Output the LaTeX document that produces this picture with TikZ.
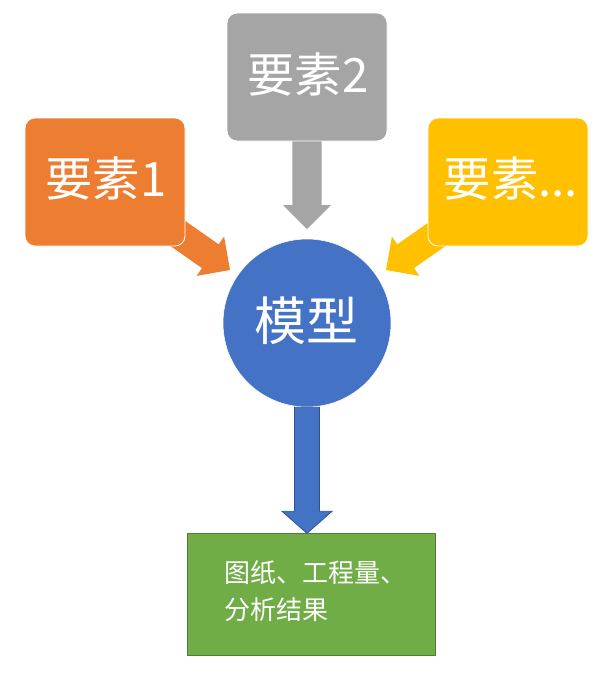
\documentclass[tikz,border=0pt]{standalone}
\usepackage{fontspec}
\setmainfont{Noto Sans CJK SC}
\usetikzlibrary{calc}
\definecolor{cOrange}{HTML}{ED7D31}
\definecolor{cGray}{HTML}{A5A5A5}
\definecolor{cYellow}{HTML}{FFC000}
\definecolor{cBlue}{HTML}{4472C4}
\definecolor{cBlueDark}{HTML}{2F528F}
\definecolor{cGreen}{HTML}{70AD47}
\definecolor{cGreenDark}{HTML}{507E32}
% block arrow: style, start coord, tip coord, shaft half width, head half width, head length
\newcommand\blkarrow[6]{%
  \coordinate (#2-hb) at ($(#3)!#6!(#2)$);
  \path[#1] ($(#2)!#4!90:(#3)$) -- ($(#2-hb)!#4!90:(#3)$) -- ($(#2-hb)!#5!90:(#3)$) -- (#3)
    -- ($(#2-hb)!#5!-90:(#3)$) -- ($(#2-hb)!#4!-90:(#3)$) -- ($(#2)!#4!-90:(#3)$) -- cycle;}
\tikzset{
  elembox/.style={rectangle, rounded corners=7.5pt, draw=white, line width=0.6pt,
    minimum width=120pt, minimum height=96pt, inner sep=0pt, text=white,
    font=\fontsize{35}{42}\selectfont},
  elemtext/.style={text=white, inner sep=0pt, font=\fontsize{35.5}{42}\selectfont},
}
\begin{document}
\begin{tikzpicture}[x=0.75pt,y=-0.75pt]
\useasboundingbox (0,0) rectangle (600,682);
% coordinates for arrows
\coordinate (oS) at (150,214);
\coordinate (oT) at (230,270);
\coordinate (yS) at (466,214);
\coordinate (yT) at (386,270);
\coordinate (gS) at (307,130);
\coordinate (gT) at (307,229);
% arrows into the model (behind boxes)
\blkarrow{fill=cOrange}{oS}{oT}{10.9pt}{18pt}{18pt}
\blkarrow{fill=cYellow}{yS}{yT}{10.9pt}{18pt}{18pt}
\blkarrow{fill=cGray}{gS}{gT}{10.9pt}{18pt}{18pt}
% element boxes
\node[elembox, fill=cOrange] (e1) at (105,182) {};
\node[elembox, fill=cGray] (e2) at (307,77) {};
\node[elembox, fill=cYellow] (e3) at (508,182) {};
\node[elemtext] (t1) at (106,178) {要素1};
\node[elemtext] (t2) at (308,74) {要素2};
\node[elemtext] (t3) at (511,178) {要素...};
% model circle
\node[circle, fill=cBlue, draw=white, line width=0.4pt, minimum size=126pt, inner sep=0pt,
  text=white, font=\fontsize{39}{46}\selectfont] (m) at (307,323) {};
\node[text=white, inner sep=0pt, font=\fontsize{39}{46}\selectfont] (mt) at (306,321) {模型};
% result box
\node[rectangle, fill=cGreen, draw=cGreenDark, line width=0.75pt,
  minimum width=186pt, minimum height=91pt, inner sep=0pt] (r) at (311,594.5) {};
\coordinate (bS) at (m.south);
\coordinate (bT) at (m.south |- r.north);
\blkarrow{fill=cBlue, draw=cBlueDark, line width=0.6pt}{bS}{bT}{9.4pt}{18.7pt}{16.5pt}
\node[anchor=west, align=left, text=white, inner sep=0pt,
  font=\fontsize{19.5}{27.75}\selectfont] (rt) at (224,591) {图纸、工程量、\\分析结果};
\end{tikzpicture}
\end{document}
